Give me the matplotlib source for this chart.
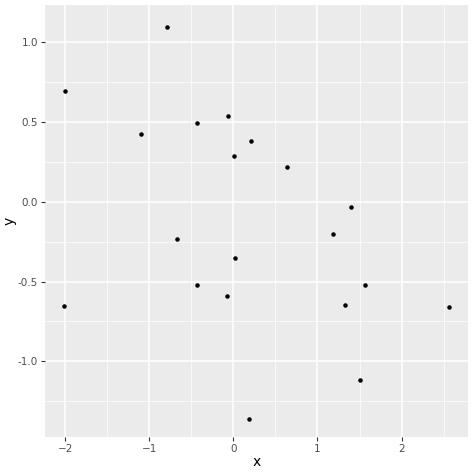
import matplotlib
matplotlib.use("Agg")
import matplotlib.pyplot as plt
from matplotlib.ticker import MultipleLocator

# values
X = [-2.0, -2.01, -0.79, -1.10, -0.43, -0.06, 0.21, 0.01, 0.64, -0.67,
     -0.43, 0.02, -0.07, 0.18, 1.18, 1.40, 1.33, 1.57, 1.51, 2.56]
Y = [0.696, -0.652, 1.10, 0.424, 0.494, 0.538, 0.38, 0.29, 0.22, -0.23,
     -0.52, -0.35, -0.59, -1.36, -0.20, -0.03, -0.65, -0.52, -1.12, -0.66]

fig = plt.figure(figsize=(4.74, 4.73), dpi=100)
ax = fig.add_axes([45 / 474, 36 / 473, 423 / 474, 432 / 473])
ax.set_facecolor("#EBEBEB")
ax.scatter(X, Y, s=5, color="black", zorder=3)

ax.set_xlim(-2.24, 2.79)
ax.set_ylim(-1.475, 1.235)
ax.xaxis.set_major_locator(MultipleLocator(1))
ax.yaxis.set_major_locator(MultipleLocator(0.5))
ax.xaxis.set_minor_locator(MultipleLocator(0.5))
ax.yaxis.set_minor_locator(MultipleLocator(0.25))
ax.grid(which="major", color="white", linewidth=1.1)
ax.grid(which="minor", color="white", linewidth=0.5)
ax.set_axisbelow(True)
for s in ax.spines.values():
    s.set_visible(False)
ax.tick_params(which="major", length=3, pad=2, color="#333333", labelsize=7.5, labelcolor="#4D4D4D")
ax.tick_params(which="minor", length=0)
ax.yaxis.set_major_formatter(matplotlib.ticker.FormatStrFormatter("%.1f"))
ax.set_xlabel("x", fontsize=10, labelpad=1)
ax.set_ylabel("y", fontsize=10, labelpad=1)

fig.savefig("out.png", dpi=100)
